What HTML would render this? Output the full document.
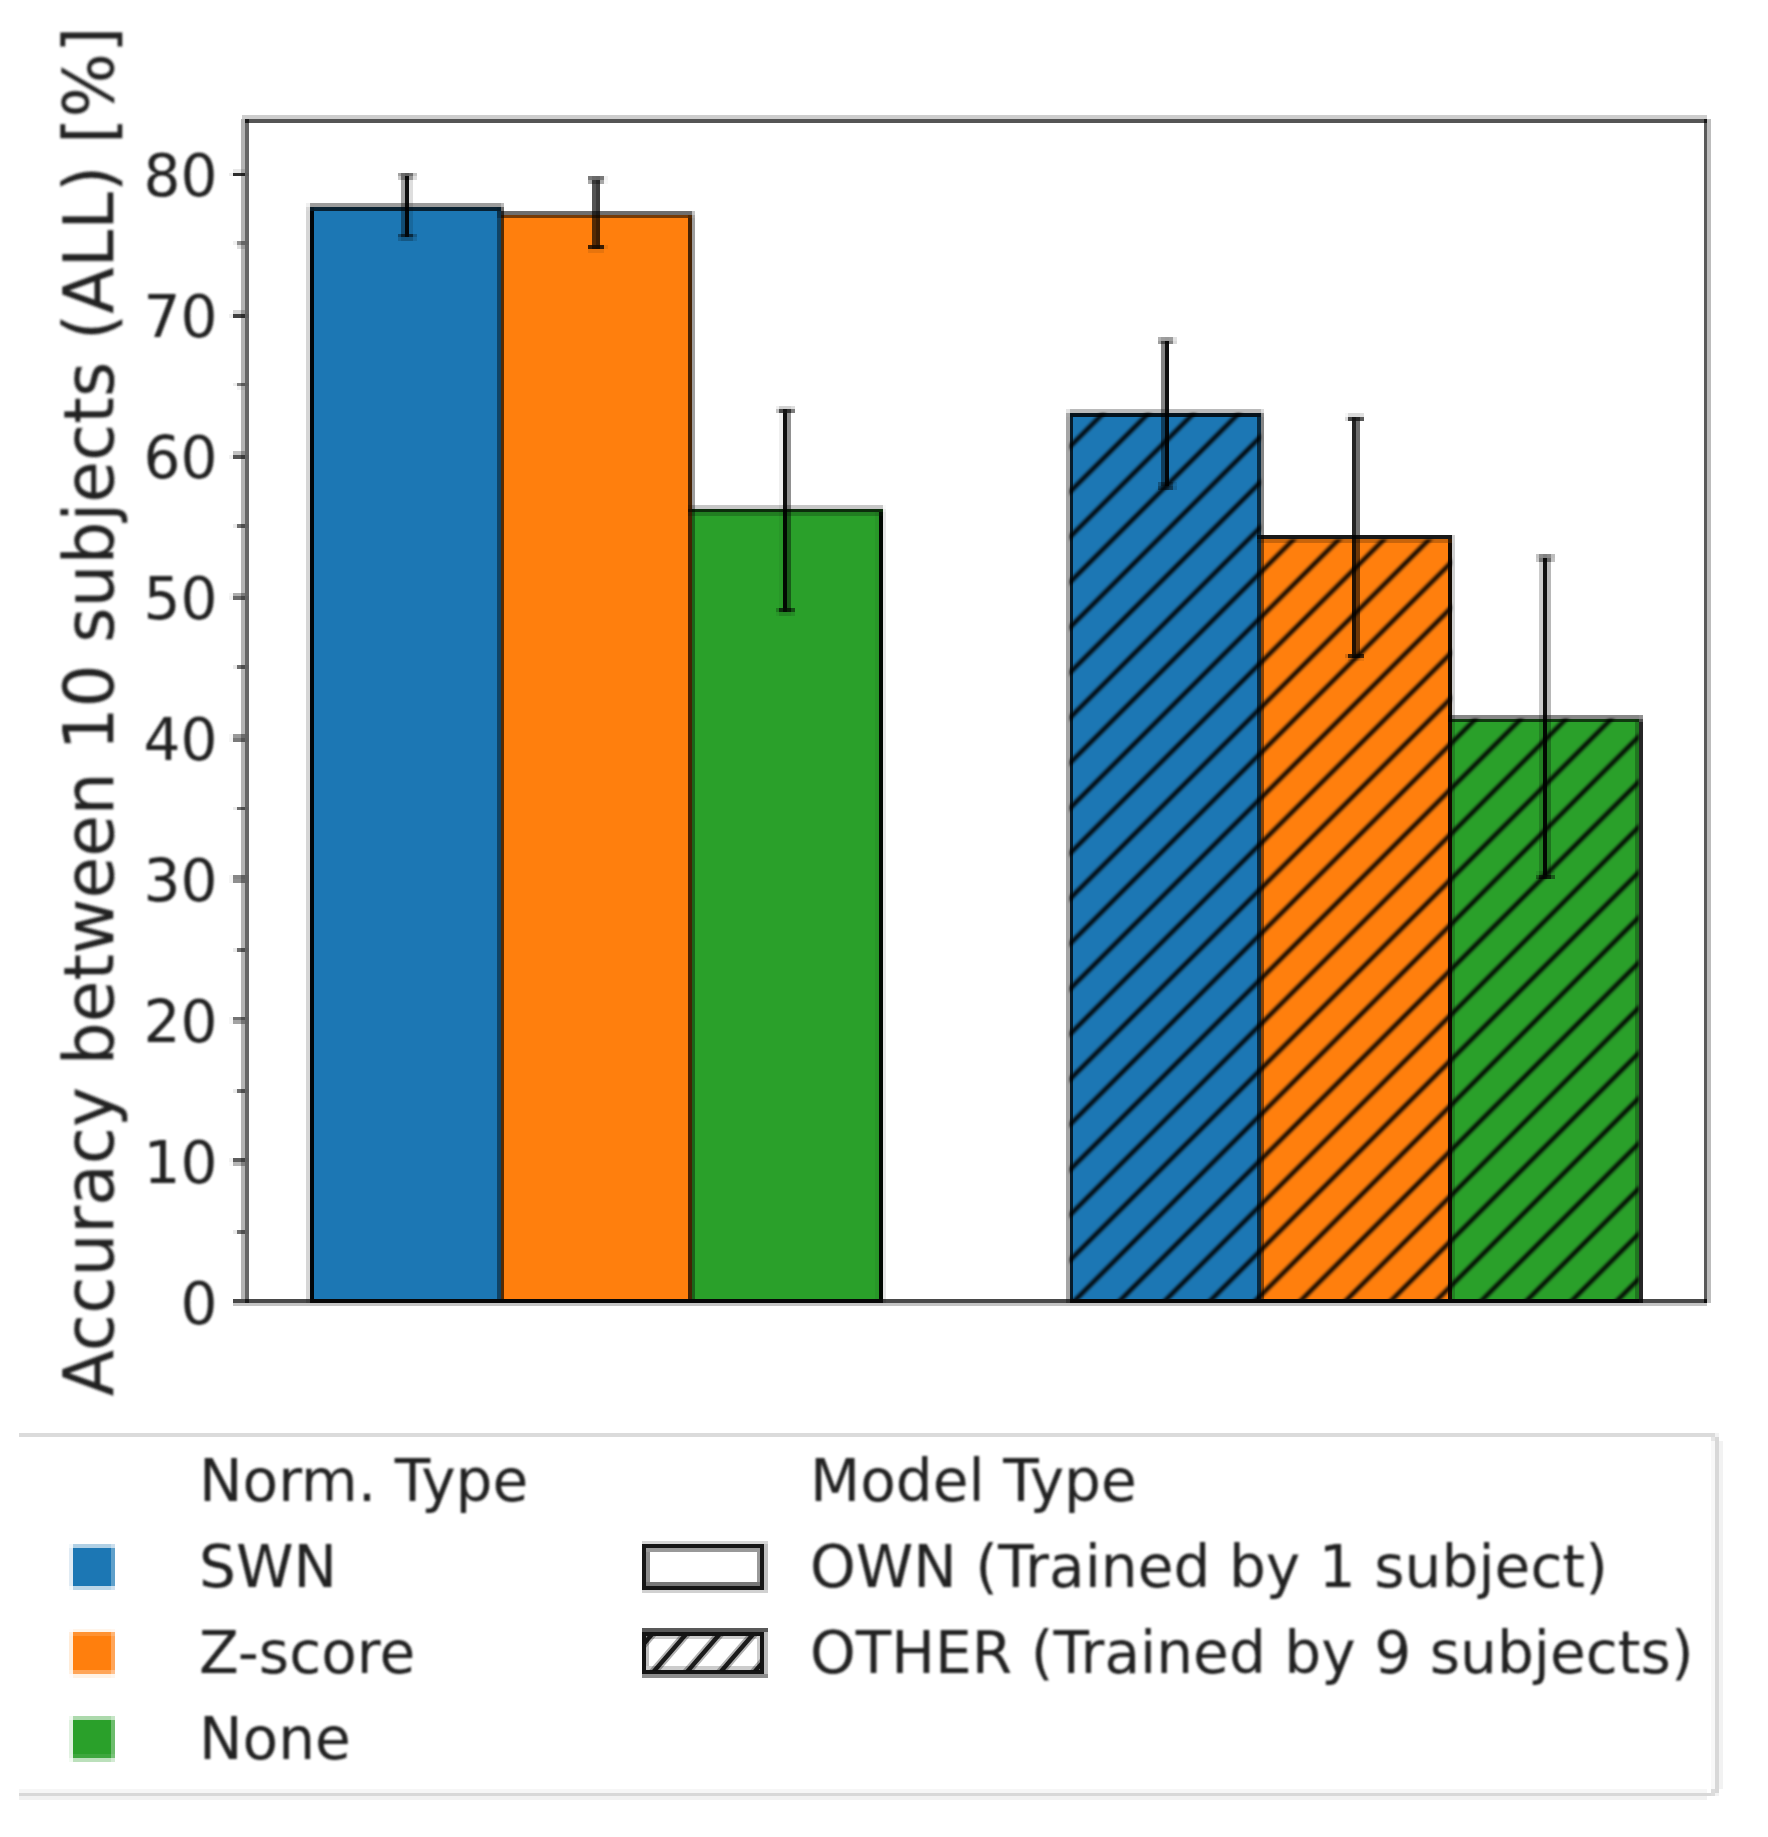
<!DOCTYPE html>
<html lang="en"><head><meta charset="utf-8"><title>Accuracy between 10 subjects</title>
<style>html,body{margin:0;padding:0;background:#fff}body{width:1768px;height:1837px;overflow:hidden}svg{display:block}text{font-family:"DejaVu Sans", "Liberation Sans", sans-serif;fill:#202020}</style></head><body>
<svg width="1768" height="1837" viewBox="0 0 1768 1837">
<defs>
<pattern id="hatch" patternUnits="userSpaceOnUse" x="0" y="0" width="45.2" height="45.2">
<path d="M25 -45.2 L-110.6 90.4 M70.2 -45.2 L-65.4 90.4 M115.4 -45.2 L-20.2 90.4 M160.6 -45.2 L25 90.4" stroke="#000" stroke-opacity="0.36" stroke-width="6.2" fill="none"/>
<path d="M25 -45.2 L-110.6 90.4 M70.2 -45.2 L-65.4 90.4 M115.4 -45.2 L-20.2 90.4 M160.6 -45.2 L25 90.4" stroke="#000" stroke-opacity="0.85" stroke-width="3.3" fill="none"/>
</pattern>
<filter id="softc" x="-2%" y="-2%" width="104%" height="104%"><feGaussianBlur stdDeviation="0.7"/></filter>
<filter id="softh" x="-2%" y="-2%" width="104%" height="104%"><feGaussianBlur stdDeviation="1.1"/></filter>
<filter id="softt" x="-2%" y="-2%" width="104%" height="104%"><feGaussianBlur stdDeviation="1.0"/></filter>
</defs>
<rect width="1768" height="1837" fill="#fff"/>
<g filter="url(#softc)" shape-rendering="crispEdges">
<rect x="309.69" y="206.93" width="190.95" height="1096.07" fill="#1f77b4"/>
<rect x="500.64" y="214.56" width="190.95" height="1088.44" fill="#ff7f0e"/>
<rect x="691.59" y="508.63" width="190.95" height="794.37" fill="#2ca02c"/>
<rect x="1069.67" y="413.15" width="190.95" height="889.85" fill="#1f77b4"/>
<rect x="1260.62" y="539.18" width="190.95" height="763.82" fill="#ff7f0e"/>
<rect x="1451.57" y="718.67" width="187.13" height="584.33" fill="#2ca02c"/>
</g>
<g filter="url(#softh)">
<rect x="1069.67" y="413.15" width="190.95" height="889.85" fill="url(#hatch)"/>
<rect x="1260.62" y="539.18" width="190.95" height="763.82" fill="url(#hatch)"/>
<rect x="1451.57" y="718.67" width="187.13" height="584.33" fill="url(#hatch)"/>
</g>
<g filter="url(#softc)" shape-rendering="crispEdges">
<rect x="241.5" y="115.2" width="1465.9" height="3.6" fill="#cdcdcd"/>
<rect x="245" y="118.8" width="1462.4" height="4" fill="#555"/>
<rect x="241.2" y="118.8" width="3.8" height="1184.2" fill="#b4b4b4"/>
<rect x="245" y="118.8" width="3.7" height="1184.2" fill="#666"/>
<rect x="1703.7" y="118.8" width="3.7" height="1184.2" fill="#5a5a5a"/>
<rect x="1707.4" y="118.8" width="3.5" height="1184.2" fill="#bdbdbd"/>
<rect x="1703.7" y="118.8" width="3.7" height="4" fill="#161616"/>
<rect x="245" y="118.8" width="3.7" height="4" fill="#1c1c1c"/>
<rect x="233" y="1298.8" width="1474.4" height="4.2" fill="#4a4a4a"/>
<rect x="233" y="1303" width="1474.4" height="3.3" fill="#c4c4c4"/>
<rect x="1703.7" y="1298.8" width="3.7" height="4.2" fill="#101010"/>
<rect x="245" y="1298.8" width="3.7" height="4.2" fill="#1c1c1c"/>
<rect x="229.49" y="1157.86" width="3.82" height="3.82" fill="#000" fill-opacity="0.05"/>
<rect x="229.49" y="1161.68" width="3.82" height="3.82" fill="#000" fill-opacity="0.02"/>
<rect x="233.31" y="1157.86" width="11.46" height="3.82" fill="#000" fill-opacity="0.63"/>
<rect x="233.31" y="1161.68" width="11.46" height="3.82" fill="#000" fill-opacity="0.29"/>
<rect x="244.77" y="1157.86" width="3.82" height="3.82" fill="#000" fill-opacity="0.04"/>
<rect x="229.49" y="1016.55" width="3.82" height="3.82" fill="#000" fill-opacity="0.04"/>
<rect x="229.49" y="1020.37" width="3.82" height="3.82" fill="#000" fill-opacity="0.03"/>
<rect x="233.31" y="1016.55" width="11.46" height="3.82" fill="#000" fill-opacity="0.55"/>
<rect x="233.31" y="1020.37" width="11.46" height="3.82" fill="#000" fill-opacity="0.36"/>
<rect x="244.77" y="1016.55" width="3.82" height="3.82" fill="#000" fill-opacity="0.03"/>
<rect x="244.77" y="1020.37" width="3.82" height="3.82" fill="#000" fill-opacity="0.02"/>
<rect x="229.49" y="875.25" width="3.82" height="3.82" fill="#000" fill-opacity="0.04"/>
<rect x="229.49" y="879.07" width="3.82" height="3.82" fill="#000" fill-opacity="0.04"/>
<rect x="233.31" y="875.25" width="11.46" height="3.82" fill="#000" fill-opacity="0.47"/>
<rect x="233.31" y="879.07" width="11.46" height="3.82" fill="#000" fill-opacity="0.44"/>
<rect x="244.77" y="875.25" width="3.82" height="3.82" fill="#000" fill-opacity="0.03"/>
<rect x="244.77" y="879.07" width="3.82" height="3.82" fill="#000" fill-opacity="0.03"/>
<rect x="229.49" y="733.95" width="3.82" height="3.82" fill="#000" fill-opacity="0.03"/>
<rect x="229.49" y="737.77" width="3.82" height="3.82" fill="#000" fill-opacity="0.04"/>
<rect x="233.31" y="733.95" width="11.46" height="3.82" fill="#000" fill-opacity="0.40"/>
<rect x="233.31" y="737.77" width="11.46" height="3.82" fill="#000" fill-opacity="0.52"/>
<rect x="244.77" y="733.95" width="3.82" height="3.82" fill="#000" fill-opacity="0.02"/>
<rect x="244.77" y="737.77" width="3.82" height="3.82" fill="#000" fill-opacity="0.03"/>
<rect x="229.49" y="592.64" width="3.82" height="3.82" fill="#000" fill-opacity="0.03"/>
<rect x="229.49" y="596.46" width="3.82" height="3.82" fill="#000" fill-opacity="0.05"/>
<rect x="233.31" y="592.64" width="11.46" height="3.82" fill="#000" fill-opacity="0.32"/>
<rect x="233.31" y="596.46" width="11.46" height="3.82" fill="#000" fill-opacity="0.59"/>
<rect x="244.77" y="596.46" width="3.82" height="3.82" fill="#000" fill-opacity="0.04"/>
<rect x="229.49" y="455.16" width="3.82" height="3.82" fill="#000" fill-opacity="0.05"/>
<rect x="233.31" y="451.34" width="11.46" height="3.82" fill="#000" fill-opacity="0.24"/>
<rect x="233.31" y="455.16" width="11.46" height="3.82" fill="#000" fill-opacity="0.67"/>
<rect x="244.77" y="455.16" width="3.82" height="3.82" fill="#000" fill-opacity="0.04"/>
<rect x="229.49" y="313.86" width="3.82" height="3.82" fill="#000" fill-opacity="0.06"/>
<rect x="233.31" y="310.04" width="11.46" height="3.82" fill="#000" fill-opacity="0.17"/>
<rect x="233.31" y="313.86" width="11.46" height="3.82" fill="#000" fill-opacity="0.75"/>
<rect x="244.77" y="313.86" width="3.82" height="3.82" fill="#000" fill-opacity="0.05"/>
<rect x="229.49" y="172.55" width="3.82" height="3.82" fill="#000" fill-opacity="0.07"/>
<rect x="233.31" y="168.74" width="11.46" height="3.82" fill="#000" fill-opacity="0.09"/>
<rect x="233.31" y="172.55" width="11.46" height="3.82" fill="#000" fill-opacity="0.82"/>
<rect x="244.77" y="172.55" width="3.82" height="3.82" fill="#000" fill-opacity="0.05"/>
<rect x="233.31" y="1230.42" width="3.82" height="3.82" fill="#000" fill-opacity="0.08"/>
<rect x="237.13" y="1230.42" width="7.64" height="3.82" fill="#000" fill-opacity="0.56"/>
<rect x="244.77" y="1230.42" width="3.82" height="3.82" fill="#000" fill-opacity="0.03"/>
<rect x="233.31" y="1089.12" width="3.82" height="3.82" fill="#000" fill-opacity="0.08"/>
<rect x="237.13" y="1089.12" width="7.64" height="3.82" fill="#000" fill-opacity="0.57"/>
<rect x="244.77" y="1089.12" width="3.82" height="3.82" fill="#000" fill-opacity="0.04"/>
<rect x="233.31" y="947.81" width="3.82" height="3.82" fill="#000" fill-opacity="0.08"/>
<rect x="237.13" y="947.81" width="7.64" height="3.82" fill="#000" fill-opacity="0.57"/>
<rect x="244.77" y="947.81" width="3.82" height="3.82" fill="#000" fill-opacity="0.04"/>
<rect x="233.31" y="806.51" width="3.82" height="3.82" fill="#000" fill-opacity="0.08"/>
<rect x="237.13" y="806.51" width="7.64" height="3.82" fill="#000" fill-opacity="0.57"/>
<rect x="244.77" y="806.51" width="3.82" height="3.82" fill="#000" fill-opacity="0.04"/>
<rect x="233.31" y="665.21" width="3.82" height="3.82" fill="#000" fill-opacity="0.08"/>
<rect x="237.13" y="665.21" width="7.64" height="3.82" fill="#000" fill-opacity="0.57"/>
<rect x="244.77" y="665.21" width="3.82" height="3.82" fill="#000" fill-opacity="0.04"/>
<rect x="233.31" y="523.90" width="3.82" height="3.82" fill="#000" fill-opacity="0.08"/>
<rect x="237.13" y="523.90" width="7.64" height="3.82" fill="#000" fill-opacity="0.57"/>
<rect x="244.77" y="523.90" width="3.82" height="3.82" fill="#000" fill-opacity="0.04"/>
<rect x="233.31" y="382.60" width="3.82" height="3.82" fill="#000" fill-opacity="0.07"/>
<rect x="237.13" y="382.60" width="7.64" height="3.82" fill="#000" fill-opacity="0.51"/>
<rect x="237.13" y="386.42" width="7.64" height="3.82" fill="#000" fill-opacity="0.06"/>
<rect x="244.77" y="382.60" width="3.82" height="3.82" fill="#000" fill-opacity="0.03"/>
<rect x="233.31" y="241.30" width="3.82" height="3.82" fill="#000" fill-opacity="0.06"/>
<rect x="237.13" y="241.30" width="7.64" height="3.82" fill="#000" fill-opacity="0.44"/>
<rect x="237.13" y="245.12" width="7.64" height="3.82" fill="#000" fill-opacity="0.13"/>
<rect x="244.77" y="241.30" width="3.82" height="3.82" fill="#000" fill-opacity="0.03"/>
<rect x="19.0" y="1433.1" width="1696.1" height="3.7" fill="#dbdbdb"/>
<rect x="1715.1" y="1433.1" width="3.8" height="3.7" fill="#f3f3f3"/>
<rect x="1715.1" y="1436.8" width="3.8" height="356.2" fill="#d8d8d8"/>
<rect x="1711.1" y="1436.8" width="4.0" height="3.7" fill="#e6e6e6"/>
<rect x="1711.1" y="1440.5" width="4.0" height="348.8" fill="#f8f8f8"/>
<rect x="1718.9" y="1440.5" width="3.8" height="348.8" fill="#f2f2f2"/>
<rect x="1711.1" y="1789.3" width="4.0" height="6.8" fill="#dcdcdc"/>
<rect x="1715.1" y="1793.0" width="3.8" height="3.1" fill="#f3f3f3"/>
<rect x="19.0" y="1793.0" width="1692.1" height="3.1" fill="#d8d8d8"/>
<rect x="19.0" y="1789.3" width="1688.4" height="3.7" fill="#f6f6f6"/>
<rect x="19.0" y="1796.1" width="1688.4" height="3.7" fill="#f2f2f2"/>
<rect x="69.2" y="1544.0" width="3.8" height="3.9" fill="#1f77b4" fill-opacity="0.05"/>
<rect x="69.2" y="1547.9" width="3.8" height="37.9" fill="#1f77b4" fill-opacity="0.15"/>
<rect x="69.2" y="1585.8" width="3.8" height="3.9" fill="#1f77b4" fill-opacity="0.04"/>
<rect x="73.0" y="1544.0" width="38.0" height="3.9" fill="#1f77b4" fill-opacity="0.35"/>
<rect x="73.0" y="1547.9" width="38.0" height="37.9" fill="#1f77b4" fill-opacity="1.00"/>
<rect x="73.0" y="1585.8" width="38.0" height="3.9" fill="#1f77b4" fill-opacity="0.30"/>
<rect x="111.0" y="1544.0" width="3.9" height="3.9" fill="#1f77b4" fill-opacity="0.24"/>
<rect x="111.0" y="1547.9" width="3.9" height="37.9" fill="#1f77b4" fill-opacity="0.70"/>
<rect x="111.0" y="1585.8" width="3.9" height="3.9" fill="#1f77b4" fill-opacity="0.21"/>
<rect x="69.2" y="1628.5" width="3.8" height="3.4" fill="#ff7f0e" fill-opacity="0.01"/>
<rect x="69.2" y="1631.9" width="3.8" height="3.9" fill="#ff7f0e" fill-opacity="0.13"/>
<rect x="69.2" y="1635.8" width="3.8" height="34.1" fill="#ff7f0e" fill-opacity="0.15"/>
<rect x="69.2" y="1669.9" width="3.8" height="3.9" fill="#ff7f0e" fill-opacity="0.10"/>
<rect x="69.2" y="1673.8" width="3.8" height="3.8" fill="#ff7f0e" fill-opacity="0.01"/>
<rect x="73.0" y="1628.5" width="38.0" height="3.4" fill="#ff7f0e" fill-opacity="0.08"/>
<rect x="73.0" y="1631.9" width="38.0" height="3.9" fill="#ff7f0e" fill-opacity="0.85"/>
<rect x="73.0" y="1635.8" width="38.0" height="34.1" fill="#ff7f0e" fill-opacity="1.00"/>
<rect x="73.0" y="1669.9" width="38.0" height="3.9" fill="#ff7f0e" fill-opacity="0.70"/>
<rect x="73.0" y="1673.8" width="38.0" height="3.8" fill="#ff7f0e" fill-opacity="0.10"/>
<rect x="111.0" y="1628.5" width="3.9" height="3.4" fill="#ff7f0e" fill-opacity="0.06"/>
<rect x="111.0" y="1631.9" width="3.9" height="3.9" fill="#ff7f0e" fill-opacity="0.59"/>
<rect x="111.0" y="1635.8" width="3.9" height="34.1" fill="#ff7f0e" fill-opacity="0.70"/>
<rect x="111.0" y="1669.9" width="3.9" height="3.9" fill="#ff7f0e" fill-opacity="0.49"/>
<rect x="111.0" y="1673.8" width="3.9" height="3.8" fill="#ff7f0e" fill-opacity="0.07"/>
<rect x="69.2" y="1716.0" width="3.8" height="3.9" fill="#2ca02c" fill-opacity="0.06"/>
<rect x="69.2" y="1719.9" width="3.8" height="34.3" fill="#2ca02c" fill-opacity="0.15"/>
<rect x="69.2" y="1754.2" width="3.8" height="3.7" fill="#2ca02c" fill-opacity="0.14"/>
<rect x="69.2" y="1757.9" width="3.8" height="3.9" fill="#2ca02c" fill-opacity="0.05"/>
<rect x="73.0" y="1716.0" width="38.0" height="3.9" fill="#2ca02c" fill-opacity="0.40"/>
<rect x="73.0" y="1719.9" width="38.0" height="34.3" fill="#2ca02c" fill-opacity="1.00"/>
<rect x="73.0" y="1754.2" width="38.0" height="3.7" fill="#2ca02c" fill-opacity="0.92"/>
<rect x="73.0" y="1757.9" width="38.0" height="3.9" fill="#2ca02c" fill-opacity="0.32"/>
<rect x="111.0" y="1716.0" width="3.9" height="3.9" fill="#2ca02c" fill-opacity="0.28"/>
<rect x="111.0" y="1719.9" width="3.9" height="34.3" fill="#2ca02c" fill-opacity="0.70"/>
<rect x="111.0" y="1754.2" width="3.9" height="3.7" fill="#2ca02c" fill-opacity="0.64"/>
<rect x="111.0" y="1757.9" width="3.9" height="3.9" fill="#2ca02c" fill-opacity="0.22"/>
<rect x="642" y="1544.2" width="122.2" height="45.5" fill="#fff"/>
<rect x="642.0" y="1540.5" width="126.0" height="3.8" fill="#000" fill-opacity="0.16"/>
<rect x="642.0" y="1589.6" width="126.0" height="3.8" fill="#000" fill-opacity="0.18"/>
<rect x="764.2" y="1544.3" width="3.8" height="45.3" fill="#000" fill-opacity="0.25"/>
<rect x="642.0" y="1544.2" width="122.2" height="3.9" fill="#000" fill-opacity="0.92"/>
<rect x="642.0" y="1585.8" width="122.2" height="3.9" fill="#000" fill-opacity="0.92"/>
<rect x="642.0" y="1548.1" width="3.9" height="37.7" fill="#000" fill-opacity="0.92"/>
<rect x="760.3" y="1548.1" width="3.9" height="37.7" fill="#000" fill-opacity="0.92"/>
<rect x="645.9" y="1548.1" width="114.4" height="3.6" fill="#000" fill-opacity="0.40"/>
<rect x="645.9" y="1582.2" width="114.4" height="3.6" fill="#000" fill-opacity="0.53"/>
<rect x="645.9" y="1551.7" width="3.6" height="30.5" fill="#000" fill-opacity="0.45"/>
<rect x="756.7" y="1551.7" width="3.6" height="30.5" fill="#000" fill-opacity="0.40"/>
<clipPath id="lc"><rect x="646" y="1636" width="114.2" height="34.2"/></clipPath>
<g clip-path="url(#lc)" shape-rendering="geometricPrecision"><path d="M612.3 1680.2 L659.3 1625.9 M646.2 1680.2 L693.2 1625.9 M679.8 1680.2 L726.8 1625.9 M713.4 1680.2 L760.4 1625.9 M747.2 1680.2 L794.2 1625.9" stroke="#000" stroke-opacity="0.3" stroke-width="8.5" fill="none"/><path d="M612.3 1680.2 L659.3 1625.9 M646.2 1680.2 L693.2 1625.9 M679.8 1680.2 L726.8 1625.9 M713.4 1680.2 L760.4 1625.9 M747.2 1680.2 L794.2 1625.9" stroke="#000" stroke-opacity="0.85" stroke-width="4.4" fill="none"/></g>
<rect x="642.0" y="1627.9" width="126.0" height="4.1" fill="#000" fill-opacity="0.65"/>
<rect x="642.0" y="1673.7" width="126.0" height="4.1" fill="#000" fill-opacity="0.45"/>
<rect x="763.9" y="1632.0" width="4.1" height="41.7" fill="#000" fill-opacity="0.27"/>
<rect x="642.0" y="1632.0" width="122.2" height="3.9" fill="#000" fill-opacity="0.92"/>
<rect x="642.0" y="1669.8" width="122.2" height="3.9" fill="#000" fill-opacity="0.92"/>
<rect x="642.0" y="1635.9" width="3.9" height="33.9" fill="#000" fill-opacity="0.92"/>
<rect x="760.3" y="1635.9" width="3.9" height="33.9" fill="#000" fill-opacity="0.92"/>
<rect x="645.9" y="1635.9" width="114.4" height="3.4" fill="#000" fill-opacity="0.20"/>
<rect x="645.9" y="1666.4" width="114.4" height="3.4" fill="#000" fill-opacity="0.20"/>
<rect x="645.9" y="1639.3" width="3.4" height="27.1" fill="#000" fill-opacity="0.25"/>
<rect x="756.9" y="1639.3" width="3.4" height="27.1" fill="#000" fill-opacity="0.20"/>
</g>
<g filter="url(#softc)" shape-rendering="crispEdges">
<rect x="305.87" y="206.93" width="3.82" height="3.82" fill="#000" fill-opacity="0.04"/>
<rect x="305.87" y="210.74" width="3.82" height="1088.42" fill="#000" fill-opacity="0.16"/>
<rect x="309.69" y="206.93" width="3.82" height="3.82" fill="#000" fill-opacity="0.23"/>
<rect x="309.69" y="210.74" width="3.82" height="1088.42" fill="#000" fill-opacity="0.95"/>
<rect x="309.69" y="1299.16" width="3.82" height="3.82" fill="#000" fill-opacity="0.03"/>
<rect x="496.82" y="206.93" width="3.82" height="3.82" fill="#000" fill-opacity="0.11"/>
<rect x="496.82" y="210.74" width="3.82" height="1088.42" fill="#000" fill-opacity="0.44"/>
<rect x="500.64" y="206.93" width="3.82" height="3.82" fill="#000" fill-opacity="0.16"/>
<rect x="500.64" y="210.74" width="3.82" height="1088.42" fill="#000" fill-opacity="0.67"/>
<rect x="500.64" y="1299.16" width="3.82" height="3.82" fill="#000" fill-opacity="0.02"/>
<rect x="687.77" y="214.56" width="3.82" height="3.82" fill="#000" fill-opacity="0.31"/>
<rect x="687.77" y="218.38" width="3.82" height="1080.78" fill="#000" fill-opacity="0.73"/>
<rect x="687.77" y="1299.16" width="3.82" height="3.82" fill="#000" fill-opacity="0.03"/>
<rect x="691.59" y="214.56" width="3.82" height="3.82" fill="#000" fill-opacity="0.17"/>
<rect x="691.59" y="218.38" width="3.82" height="1080.78" fill="#000" fill-opacity="0.38"/>
<rect x="874.90" y="512.45" width="3.82" height="3.82" fill="#000" fill-opacity="0.06"/>
<rect x="874.90" y="516.26" width="3.82" height="782.90" fill="#000" fill-opacity="0.06"/>
<rect x="878.72" y="512.45" width="3.82" height="3.82" fill="#000" fill-opacity="0.88"/>
<rect x="878.72" y="516.26" width="3.82" height="782.90" fill="#000" fill-opacity="0.95"/>
<rect x="878.72" y="1299.16" width="3.82" height="3.82" fill="#000" fill-opacity="0.03"/>
<rect x="882.54" y="512.45" width="3.82" height="3.82" fill="#000" fill-opacity="0.09"/>
<rect x="882.54" y="516.26" width="3.82" height="782.90" fill="#000" fill-opacity="0.10"/>
<rect x="305.87" y="203.11" width="3.82" height="3.82" fill="#000" fill-opacity="0.06"/>
<rect x="305.87" y="206.93" width="3.82" height="3.82" fill="#000" fill-opacity="0.12"/>
<rect x="309.69" y="203.11" width="190.95" height="3.82" fill="#000" fill-opacity="0.39"/>
<rect x="309.69" y="206.93" width="190.95" height="3.82" fill="#000" fill-opacity="0.72"/>
<rect x="500.64" y="203.11" width="3.82" height="3.82" fill="#000" fill-opacity="0.27"/>
<rect x="500.64" y="206.93" width="3.82" height="3.82" fill="#000" fill-opacity="0.51"/>
<rect x="496.82" y="210.74" width="3.82" height="3.82" fill="#000" fill-opacity="0.27"/>
<rect x="496.82" y="214.56" width="3.82" height="3.82" fill="#000" fill-opacity="0.25"/>
<rect x="500.64" y="210.74" width="190.95" height="3.82" fill="#000" fill-opacity="0.57"/>
<rect x="500.64" y="214.56" width="190.95" height="3.82" fill="#000" fill-opacity="0.54"/>
<rect x="691.59" y="210.74" width="3.82" height="3.82" fill="#000" fill-opacity="0.23"/>
<rect x="691.59" y="214.56" width="3.82" height="3.82" fill="#000" fill-opacity="0.22"/>
<rect x="687.77" y="504.81" width="3.82" height="3.82" fill="#000" fill-opacity="0.17"/>
<rect x="687.77" y="508.63" width="3.82" height="3.82" fill="#000" fill-opacity="0.55"/>
<rect x="687.77" y="512.45" width="3.82" height="3.82" fill="#000" fill-opacity="0.16"/>
<rect x="691.59" y="504.81" width="190.95" height="3.82" fill="#000" fill-opacity="0.22"/>
<rect x="691.59" y="508.63" width="190.95" height="3.82" fill="#000" fill-opacity="0.72"/>
<rect x="691.59" y="512.45" width="190.95" height="3.82" fill="#000" fill-opacity="0.21"/>
<rect x="882.54" y="504.81" width="3.82" height="3.82" fill="#000" fill-opacity="0.02"/>
<rect x="882.54" y="508.63" width="3.82" height="3.82" fill="#000" fill-opacity="0.07"/>
<rect x="882.54" y="512.45" width="3.82" height="3.82" fill="#000" fill-opacity="0.02"/>
<rect x="305.87" y="1299.16" width="3.82" height="3.82" fill="#000" fill-opacity="0.15"/>
<rect x="309.69" y="1299.16" width="572.85" height="3.82" fill="#000" fill-opacity="0.90"/>
<rect x="882.54" y="1299.16" width="3.82" height="3.82" fill="#000" fill-opacity="0.09"/>
<rect x="1065.85" y="413.15" width="3.82" height="3.82" fill="#000" fill-opacity="0.04"/>
<rect x="1065.85" y="416.97" width="3.82" height="882.19" fill="#000" fill-opacity="0.35"/>
<rect x="1069.67" y="413.15" width="3.82" height="3.82" fill="#000" fill-opacity="0.09"/>
<rect x="1069.67" y="416.97" width="3.82" height="882.19" fill="#000" fill-opacity="0.76"/>
<rect x="1069.67" y="1299.16" width="3.82" height="3.82" fill="#000" fill-opacity="0.03"/>
<rect x="1256.80" y="413.15" width="3.82" height="3.82" fill="#000" fill-opacity="0.07"/>
<rect x="1256.80" y="416.97" width="3.82" height="882.19" fill="#000" fill-opacity="0.64"/>
<rect x="1256.80" y="1299.16" width="3.82" height="3.82" fill="#000" fill-opacity="0.02"/>
<rect x="1260.62" y="413.15" width="3.82" height="3.82" fill="#000" fill-opacity="0.05"/>
<rect x="1260.62" y="416.97" width="3.82" height="882.19" fill="#000" fill-opacity="0.48"/>
<rect x="1447.75" y="539.18" width="3.82" height="3.82" fill="#000" fill-opacity="0.72"/>
<rect x="1447.75" y="543.00" width="3.82" height="756.16" fill="#000" fill-opacity="0.92"/>
<rect x="1447.75" y="1299.16" width="3.82" height="3.82" fill="#000" fill-opacity="0.03"/>
<rect x="1451.57" y="539.18" width="3.82" height="3.82" fill="#000" fill-opacity="0.15"/>
<rect x="1451.57" y="543.00" width="3.82" height="756.16" fill="#000" fill-opacity="0.19"/>
<rect x="1634.88" y="718.67" width="3.82" height="3.82" fill="#000" fill-opacity="0.08"/>
<rect x="1634.88" y="722.49" width="3.82" height="576.67" fill="#000" fill-opacity="0.26"/>
<rect x="1638.70" y="718.67" width="3.82" height="3.82" fill="#000" fill-opacity="0.28"/>
<rect x="1638.70" y="722.49" width="3.82" height="576.67" fill="#000" fill-opacity="0.85"/>
<rect x="1638.70" y="1299.16" width="3.82" height="3.82" fill="#000" fill-opacity="0.03"/>
<rect x="1065.85" y="409.33" width="3.82" height="3.82" fill="#000" fill-opacity="0.10"/>
<rect x="1065.85" y="413.15" width="3.82" height="3.82" fill="#000" fill-opacity="0.31"/>
<rect x="1069.67" y="409.33" width="190.95" height="3.82" fill="#000" fill-opacity="0.27"/>
<rect x="1069.67" y="413.15" width="190.95" height="3.82" fill="#000" fill-opacity="0.84"/>
<rect x="1260.62" y="409.33" width="3.82" height="3.82" fill="#000" fill-opacity="0.14"/>
<rect x="1260.62" y="413.15" width="3.82" height="3.82" fill="#000" fill-opacity="0.42"/>
<rect x="1256.80" y="535.36" width="3.82" height="3.82" fill="#000" fill-opacity="0.60"/>
<rect x="1256.80" y="539.18" width="3.82" height="3.82" fill="#000" fill-opacity="0.14"/>
<rect x="1260.62" y="535.36" width="190.95" height="3.82" fill="#000" fill-opacity="0.90"/>
<rect x="1260.62" y="539.18" width="190.95" height="3.82" fill="#000" fill-opacity="0.21"/>
<rect x="1451.57" y="535.36" width="3.82" height="3.82" fill="#000" fill-opacity="0.18"/>
<rect x="1451.57" y="539.18" width="3.82" height="3.82" fill="#000" fill-opacity="0.04"/>
<rect x="1447.75" y="714.85" width="3.82" height="3.82" fill="#000" fill-opacity="0.46"/>
<rect x="1447.75" y="718.67" width="3.82" height="3.82" fill="#000" fill-opacity="0.62"/>
<rect x="1451.57" y="714.85" width="187.13" height="3.82" fill="#000" fill-opacity="0.47"/>
<rect x="1451.57" y="718.67" width="187.13" height="3.82" fill="#000" fill-opacity="0.64"/>
<rect x="1638.70" y="714.85" width="3.82" height="3.82" fill="#000" fill-opacity="0.43"/>
<rect x="1638.70" y="718.67" width="3.82" height="3.82" fill="#000" fill-opacity="0.57"/>
<rect x="1065.85" y="1299.16" width="3.82" height="3.82" fill="#000" fill-opacity="0.33"/>
<rect x="1069.67" y="1299.16" width="569.03" height="3.82" fill="#000" fill-opacity="0.90"/>
<rect x="1638.70" y="1299.16" width="3.82" height="3.82" fill="#000" fill-opacity="0.81"/>
</g>
<g filter="url(#softc)" shape-rendering="crispEdges">
<rect x="401.35" y="172.55" width="3.82" height="3.82" fill="#000" fill-opacity="0.07"/>
<rect x="401.35" y="176.37" width="3.82" height="57.28" fill="#000" fill-opacity="0.36"/>
<rect x="401.35" y="233.66" width="3.82" height="3.82" fill="#000" fill-opacity="0.32"/>
<rect x="405.16" y="172.55" width="3.82" height="3.82" fill="#000" fill-opacity="0.19"/>
<rect x="405.16" y="176.37" width="3.82" height="57.28" fill="#000" fill-opacity="0.94"/>
<rect x="405.16" y="233.66" width="3.82" height="3.82" fill="#000" fill-opacity="0.85"/>
<rect x="408.98" y="172.55" width="3.82" height="3.82" fill="#000" fill-opacity="0.03"/>
<rect x="408.98" y="176.37" width="3.82" height="57.28" fill="#000" fill-opacity="0.13"/>
<rect x="408.98" y="233.66" width="3.82" height="3.82" fill="#000" fill-opacity="0.11"/>
<rect x="397.53" y="172.55" width="3.82" height="3.82" fill="#000" fill-opacity="0.37"/>
<rect x="397.53" y="176.37" width="3.82" height="3.82" fill="#000" fill-opacity="0.21"/>
<rect x="401.35" y="172.55" width="11.46" height="3.82" fill="#000" fill-opacity="0.55"/>
<rect x="401.35" y="176.37" width="11.46" height="3.82" fill="#000" fill-opacity="0.32"/>
<rect x="412.80" y="172.55" width="3.82" height="3.82" fill="#000" fill-opacity="0.23"/>
<rect x="412.80" y="176.37" width="3.82" height="3.82" fill="#000" fill-opacity="0.13"/>
<rect x="397.53" y="233.66" width="3.82" height="3.82" fill="#000" fill-opacity="0.40"/>
<rect x="397.53" y="237.48" width="3.82" height="3.82" fill="#000" fill-opacity="0.18"/>
<rect x="401.35" y="233.66" width="11.46" height="3.82" fill="#000" fill-opacity="0.60"/>
<rect x="401.35" y="237.48" width="11.46" height="3.82" fill="#000" fill-opacity="0.27"/>
<rect x="412.80" y="233.66" width="3.82" height="3.82" fill="#000" fill-opacity="0.25"/>
<rect x="412.80" y="237.48" width="3.82" height="3.82" fill="#000" fill-opacity="0.11"/>
<rect x="592.29" y="176.37" width="3.82" height="3.82" fill="#000" fill-opacity="0.12"/>
<rect x="592.29" y="180.19" width="3.82" height="64.92" fill="#000" fill-opacity="0.67"/>
<rect x="592.29" y="245.12" width="3.82" height="3.82" fill="#000" fill-opacity="0.47"/>
<rect x="596.11" y="176.37" width="3.82" height="3.82" fill="#000" fill-opacity="0.14"/>
<rect x="596.11" y="180.19" width="3.82" height="64.92" fill="#000" fill-opacity="0.76"/>
<rect x="596.11" y="245.12" width="3.82" height="3.82" fill="#000" fill-opacity="0.53"/>
<rect x="588.48" y="176.37" width="3.82" height="3.82" fill="#000" fill-opacity="0.52"/>
<rect x="588.48" y="180.19" width="3.82" height="3.82" fill="#000" fill-opacity="0.34"/>
<rect x="592.29" y="176.37" width="11.46" height="3.82" fill="#000" fill-opacity="0.53"/>
<rect x="592.29" y="180.19" width="11.46" height="3.82" fill="#000" fill-opacity="0.34"/>
<rect x="603.75" y="176.37" width="3.82" height="3.82" fill="#000" fill-opacity="0.05"/>
<rect x="603.75" y="180.19" width="3.82" height="3.82" fill="#000" fill-opacity="0.03"/>
<rect x="588.48" y="245.12" width="3.82" height="3.82" fill="#000" fill-opacity="0.77"/>
<rect x="588.48" y="248.93" width="3.82" height="3.82" fill="#000" fill-opacity="0.09"/>
<rect x="592.29" y="245.12" width="11.46" height="3.82" fill="#000" fill-opacity="0.78"/>
<rect x="592.29" y="248.93" width="11.46" height="3.82" fill="#000" fill-opacity="0.09"/>
<rect x="603.75" y="245.12" width="3.82" height="3.82" fill="#000" fill-opacity="0.07"/>
<rect x="779.43" y="409.33" width="3.82" height="3.82" fill="#000" fill-opacity="0.05"/>
<rect x="779.43" y="413.15" width="3.82" height="194.77" fill="#000" fill-opacity="0.06"/>
<rect x="779.43" y="607.92" width="3.82" height="3.82" fill="#000" fill-opacity="0.05"/>
<rect x="783.25" y="409.33" width="3.82" height="3.82" fill="#000" fill-opacity="0.75"/>
<rect x="783.25" y="413.15" width="3.82" height="194.77" fill="#000" fill-opacity="0.94"/>
<rect x="783.25" y="607.92" width="3.82" height="3.82" fill="#000" fill-opacity="0.73"/>
<rect x="787.06" y="409.33" width="3.82" height="3.82" fill="#000" fill-opacity="0.34"/>
<rect x="787.06" y="413.15" width="3.82" height="194.77" fill="#000" fill-opacity="0.43"/>
<rect x="787.06" y="607.92" width="3.82" height="3.82" fill="#000" fill-opacity="0.33"/>
<rect x="775.61" y="405.51" width="3.82" height="3.82" fill="#000" fill-opacity="0.06"/>
<rect x="775.61" y="409.33" width="3.82" height="3.82" fill="#000" fill-opacity="0.24"/>
<rect x="779.43" y="405.51" width="11.46" height="3.82" fill="#000" fill-opacity="0.18"/>
<rect x="779.43" y="409.33" width="11.46" height="3.82" fill="#000" fill-opacity="0.69"/>
<rect x="790.88" y="405.51" width="3.82" height="3.82" fill="#000" fill-opacity="0.13"/>
<rect x="790.88" y="409.33" width="3.82" height="3.82" fill="#000" fill-opacity="0.51"/>
<rect x="775.61" y="607.92" width="3.82" height="3.82" fill="#000" fill-opacity="0.25"/>
<rect x="775.61" y="611.74" width="3.82" height="3.82" fill="#000" fill-opacity="0.06"/>
<rect x="779.43" y="607.92" width="11.46" height="3.82" fill="#000" fill-opacity="0.71"/>
<rect x="779.43" y="611.74" width="11.46" height="3.82" fill="#000" fill-opacity="0.16"/>
<rect x="790.88" y="607.92" width="3.82" height="3.82" fill="#000" fill-opacity="0.52"/>
<rect x="790.88" y="611.74" width="3.82" height="3.82" fill="#000" fill-opacity="0.12"/>
<rect x="1161.33" y="340.59" width="3.82" height="145.12" fill="#000" fill-opacity="0.48"/>
<rect x="1161.33" y="485.71" width="3.82" height="3.82" fill="#000" fill-opacity="0.07"/>
<rect x="1165.14" y="336.77" width="3.82" height="3.82" fill="#000" fill-opacity="0.02"/>
<rect x="1165.14" y="340.59" width="3.82" height="145.12" fill="#000" fill-opacity="0.94"/>
<rect x="1165.14" y="485.71" width="3.82" height="3.82" fill="#000" fill-opacity="0.14"/>
<rect x="1157.51" y="336.77" width="3.82" height="3.82" fill="#000" fill-opacity="0.30"/>
<rect x="1157.51" y="340.59" width="3.82" height="3.82" fill="#000" fill-opacity="0.38"/>
<rect x="1161.33" y="336.77" width="11.46" height="3.82" fill="#000" fill-opacity="0.38"/>
<rect x="1161.33" y="340.59" width="11.46" height="3.82" fill="#000" fill-opacity="0.48"/>
<rect x="1172.78" y="336.77" width="3.82" height="3.82" fill="#000" fill-opacity="0.11"/>
<rect x="1172.78" y="340.59" width="3.82" height="3.82" fill="#000" fill-opacity="0.14"/>
<rect x="1157.51" y="481.89" width="3.82" height="3.82" fill="#000" fill-opacity="0.29"/>
<rect x="1157.51" y="485.71" width="3.82" height="3.82" fill="#000" fill-opacity="0.40"/>
<rect x="1161.33" y="481.89" width="11.46" height="3.82" fill="#000" fill-opacity="0.36"/>
<rect x="1161.33" y="485.71" width="11.46" height="3.82" fill="#000" fill-opacity="0.50"/>
<rect x="1172.78" y="481.89" width="3.82" height="3.82" fill="#000" fill-opacity="0.11"/>
<rect x="1172.78" y="485.71" width="3.82" height="3.82" fill="#000" fill-opacity="0.15"/>
<rect x="1352.28" y="416.97" width="3.82" height="3.82" fill="#000" fill-opacity="0.65"/>
<rect x="1352.28" y="420.79" width="3.82" height="232.96" fill="#000" fill-opacity="0.86"/>
<rect x="1352.28" y="653.75" width="3.82" height="3.82" fill="#000" fill-opacity="0.62"/>
<rect x="1356.09" y="416.97" width="3.82" height="3.82" fill="#000" fill-opacity="0.43"/>
<rect x="1356.09" y="420.79" width="3.82" height="232.96" fill="#000" fill-opacity="0.57"/>
<rect x="1356.09" y="653.75" width="3.82" height="3.82" fill="#000" fill-opacity="0.41"/>
<rect x="1344.64" y="413.15" width="3.82" height="3.82" fill="#000" fill-opacity="0.03"/>
<rect x="1344.64" y="416.97" width="3.82" height="3.82" fill="#000" fill-opacity="0.14"/>
<rect x="1348.46" y="413.15" width="11.46" height="3.82" fill="#000" fill-opacity="0.14"/>
<rect x="1348.46" y="416.97" width="11.46" height="3.82" fill="#000" fill-opacity="0.73"/>
<rect x="1359.91" y="413.15" width="3.82" height="3.82" fill="#000" fill-opacity="0.12"/>
<rect x="1359.91" y="416.97" width="3.82" height="3.82" fill="#000" fill-opacity="0.65"/>
<rect x="1344.64" y="653.75" width="3.82" height="3.82" fill="#000" fill-opacity="0.15"/>
<rect x="1344.64" y="657.57" width="3.82" height="3.82" fill="#000" fill-opacity="0.02"/>
<rect x="1348.46" y="653.75" width="11.46" height="3.82" fill="#000" fill-opacity="0.76"/>
<rect x="1348.46" y="657.57" width="11.46" height="3.82" fill="#000" fill-opacity="0.10"/>
<rect x="1359.91" y="653.75" width="3.82" height="3.82" fill="#000" fill-opacity="0.68"/>
<rect x="1359.91" y="657.57" width="3.82" height="3.82" fill="#000" fill-opacity="0.09"/>
<rect x="1539.41" y="558.27" width="3.82" height="316.98" fill="#000" fill-opacity="0.20"/>
<rect x="1539.41" y="875.25" width="3.82" height="3.82" fill="#000" fill-opacity="0.08"/>
<rect x="1543.23" y="554.46" width="3.82" height="3.82" fill="#000" fill-opacity="0.09"/>
<rect x="1543.23" y="558.27" width="3.82" height="316.98" fill="#000" fill-opacity="0.94"/>
<rect x="1543.23" y="875.25" width="3.82" height="3.82" fill="#000" fill-opacity="0.38"/>
<rect x="1547.04" y="554.46" width="3.82" height="3.82" fill="#000" fill-opacity="0.03"/>
<rect x="1547.04" y="558.27" width="3.82" height="316.98" fill="#000" fill-opacity="0.28"/>
<rect x="1547.04" y="875.25" width="3.82" height="3.82" fill="#000" fill-opacity="0.12"/>
<rect x="1535.59" y="554.46" width="3.82" height="3.82" fill="#000" fill-opacity="0.23"/>
<rect x="1535.59" y="558.27" width="3.82" height="3.82" fill="#000" fill-opacity="0.21"/>
<rect x="1539.41" y="554.46" width="11.46" height="3.82" fill="#000" fill-opacity="0.45"/>
<rect x="1539.41" y="558.27" width="11.46" height="3.82" fill="#000" fill-opacity="0.42"/>
<rect x="1550.86" y="554.46" width="3.82" height="3.82" fill="#000" fill-opacity="0.26"/>
<rect x="1550.86" y="558.27" width="3.82" height="3.82" fill="#000" fill-opacity="0.24"/>
<rect x="1535.59" y="871.43" width="3.82" height="3.82" fill="#000" fill-opacity="0.07"/>
<rect x="1535.59" y="875.25" width="3.82" height="3.82" fill="#000" fill-opacity="0.37"/>
<rect x="1539.41" y="871.43" width="11.46" height="3.82" fill="#000" fill-opacity="0.13"/>
<rect x="1539.41" y="875.25" width="11.46" height="3.82" fill="#000" fill-opacity="0.73"/>
<rect x="1550.86" y="871.43" width="3.82" height="3.82" fill="#000" fill-opacity="0.08"/>
<rect x="1550.86" y="875.25" width="3.82" height="3.82" fill="#000" fill-opacity="0.43"/>
</g>
<g filter="url(#softt)">
<text x="217.5" y="1324.4" font-size="58.2" text-anchor="end">0</text>
<text x="217.5" y="1183.4" font-size="58.2" text-anchor="end">10</text>
<text x="217.5" y="1042.4" font-size="58.2" text-anchor="end">20</text>
<text x="217.5" y="901.4" font-size="58.2" text-anchor="end">30</text>
<text x="217.5" y="760.4" font-size="58.2" text-anchor="end">40</text>
<text x="217.5" y="619.4" font-size="58.2" text-anchor="end">50</text>
<text x="217.5" y="478.4" font-size="58.2" text-anchor="end">60</text>
<text x="217.5" y="337.4" font-size="58.2" text-anchor="end">70</text>
<text x="217.5" y="196.4" font-size="58.2" text-anchor="end">80</text>
<text transform="translate(113.3 711.5) rotate(-90) scale(0.970 1)" font-size="69.9" text-anchor="middle">Accuracy between 10 subjects (ALL) [%]</text>
<text x="199" y="1500.7" font-size="58.2">Norm. Type</text>
<text x="199" y="1586.7" font-size="58.2">SWN</text>
<text x="199" y="1672.8" font-size="58.2">Z-score</text>
<text x="199" y="1758.8" font-size="58.2">None</text>
<text x="810" y="1500.7" font-size="58.2">Model Type</text>
<text x="810" y="1586.7" font-size="58.2">OWN (Trained by 1 subject)</text>
<text x="810" y="1672.8" font-size="58.2">OTHER (Trained by 9 subjects)</text>
</g>
</svg></body></html>
